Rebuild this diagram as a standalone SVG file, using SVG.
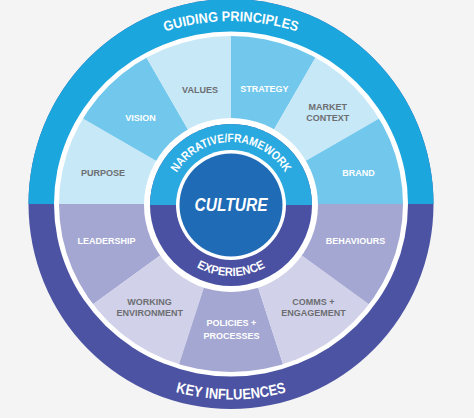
<svg xmlns="http://www.w3.org/2000/svg" xmlns:xlink="http://www.w3.org/1999/xlink" width="474" height="418" viewBox="0 0 474 418">
<style>
.lbl{font-family:"Liberation Sans",Arial,sans-serif;font-weight:bold;font-size:9px;text-anchor:middle;dominant-baseline:central}
.g{fill:#6d6e71}
.w{fill:#ffffff}
.lb{fill:#c7e8f7}
.mb{fill:#72c7ec}
.lp{fill:#d1d2ea}
.mp{fill:#a4a7d2}
.arc{font-family:"Liberation Sans",Arial,sans-serif;font-weight:bold;fill:#ffffff}
</style>
<defs>
<clipPath id="seg"><ellipse cx="231" cy="204" rx="172" ry="168"/></clipPath>
<path id="pTop" d="M 48.3 126.5 A 211 211 0 0 1 413.7 126.5"/>
<path id="pBot" d="M 48.3 294 A 211 211 0 0 0 413.7 294"/>
<path id="pNar" d="M 168 205 A 63 63 0 0 1 294 205"/>
<path id="pExp" d="M 169.5 240.5 A 71 71 0 0 0 292.5 240.5"/>
</defs>
<rect x="0" y="0" width="474" height="418" fill="#f4f4f4"/>
<g id="outer-ring">
<ellipse cx="231" cy="204" rx="202.5" ry="205" fill="#4c53a3"/>
<path d="M 28.5 204 A 202.5 205 0 0 1 433.5 204 Z" fill="#1ba6dd"/>
<ellipse cx="231" cy="204" rx="177" ry="172.5" fill="#ffffff"/>
<text class="arc" font-size="14"><textPath xlink:href="#pTop" href="#pTop" startOffset="50%" text-anchor="middle" textLength="134" lengthAdjust="spacingAndGlyphs">GUIDING PRINCIPLES</textPath></text>
<text class="arc" font-size="15"><textPath xlink:href="#pBot" href="#pBot" startOffset="50%" text-anchor="middle" textLength="112" lengthAdjust="spacingAndGlyphs">KEY INFLUENCES</textPath></text>
</g>
<g id="segments" clip-path="url(#seg)">
<g id="purpose"><polygon class="lb" points="231,204 -29,204 5.8,74"/></g>
<g id="vision"><polygon class="mb" points="231,204 5.8,74 101,-21.2"/></g>
<g id="values"><polygon class="lb" points="231,204 101,-21.2 231,-56"/></g>
<g id="strategy"><polygon class="mb" points="231,204 231,-56 361,-21.2"/></g>
<g id="market-context"><polygon class="lb" points="231,204 361,-21.2 456.2,74"/></g>
<g id="brand"><polygon class="mb" points="231,204 456.2,74 491,204"/></g>
<g id="leadership"><polygon class="mp" points="231,204 -29,204 20.7,356.8"/></g>
<g id="working-environment"><polygon class="lp" points="231,204 20.7,356.8 150.7,451.3"/></g>
<g id="policies-processes"><polygon class="mp" points="231,204 150.7,451.3 311.3,451.3"/></g>
<g id="comms-engagement"><polygon class="lp" points="231,204 311.3,451.3 441.3,356.8"/></g>
<g id="behaviours"><polygon class="mp" points="231,204 441.3,356.8 491,204"/></g>
</g>
<g id="segment-labels">
<text class="lbl g" x="103" y="172.7">PURPOSE</text>
<text class="lbl w" x="140.5" y="118.3">VISION</text>
<text class="lbl g" x="200" y="89.7">VALUES</text>
<text class="lbl w" x="264.3" y="88.7">STRATEGY</text>
<text class="lbl g" x="327.7" y="106.7">MARKET</text>
<text class="lbl g" x="327.8" y="118.3">CONTEXT</text>
<text class="lbl w" x="358.5" y="172.7">BRAND</text>
<text class="lbl w" x="106.5" y="241">LEADERSHIP</text>
<text class="lbl g" x="149.5" y="301.7">WORKING</text>
<text class="lbl g" x="149.7" y="313.3">ENVIRONMENT</text>
<text class="lbl w" x="231.3" y="323.3">POLICIES +</text>
<text class="lbl w" x="231.5" y="335.7">PROCESSES</text>
<text class="lbl g" x="313.5" y="301.7">COMMS +</text>
<text class="lbl g" x="313.5" y="313.3">ENGAGEMENT</text>
<text class="lbl w" x="355.5" y="241">BEHAVIOURS</text>
</g>
<g id="core">
<circle cx="231" cy="205" r="87" fill="#ffffff"/>
<circle cx="231" cy="205" r="81" fill="#4a51a2"/>
<path d="M 150 205 A 81 81 0 0 1 312 205 Z" fill="#29a9df"/>
<circle cx="231" cy="205" r="55" fill="#ffffff"/>
<circle cx="231" cy="205" r="51.5" fill="#1f6bb5"/>
<text class="arc" font-size="12"><textPath xlink:href="#pNar" href="#pNar" startOffset="50%" text-anchor="middle" textLength="130" lengthAdjust="spacingAndGlyphs">NARRATIVE/FRAMEWORK</textPath></text>
<text class="arc" font-size="12"><textPath xlink:href="#pExp" href="#pExp" startOffset="50%" text-anchor="middle" textLength="72" lengthAdjust="spacingAndGlyphs">EXPERIENCE</textPath></text>
<text class="arc" x="231" y="210.5" font-size="18" font-style="italic" text-anchor="middle" textLength="73" lengthAdjust="spacingAndGlyphs">CULTURE</text>
</g>
<g id="connectors"/>
</svg>
